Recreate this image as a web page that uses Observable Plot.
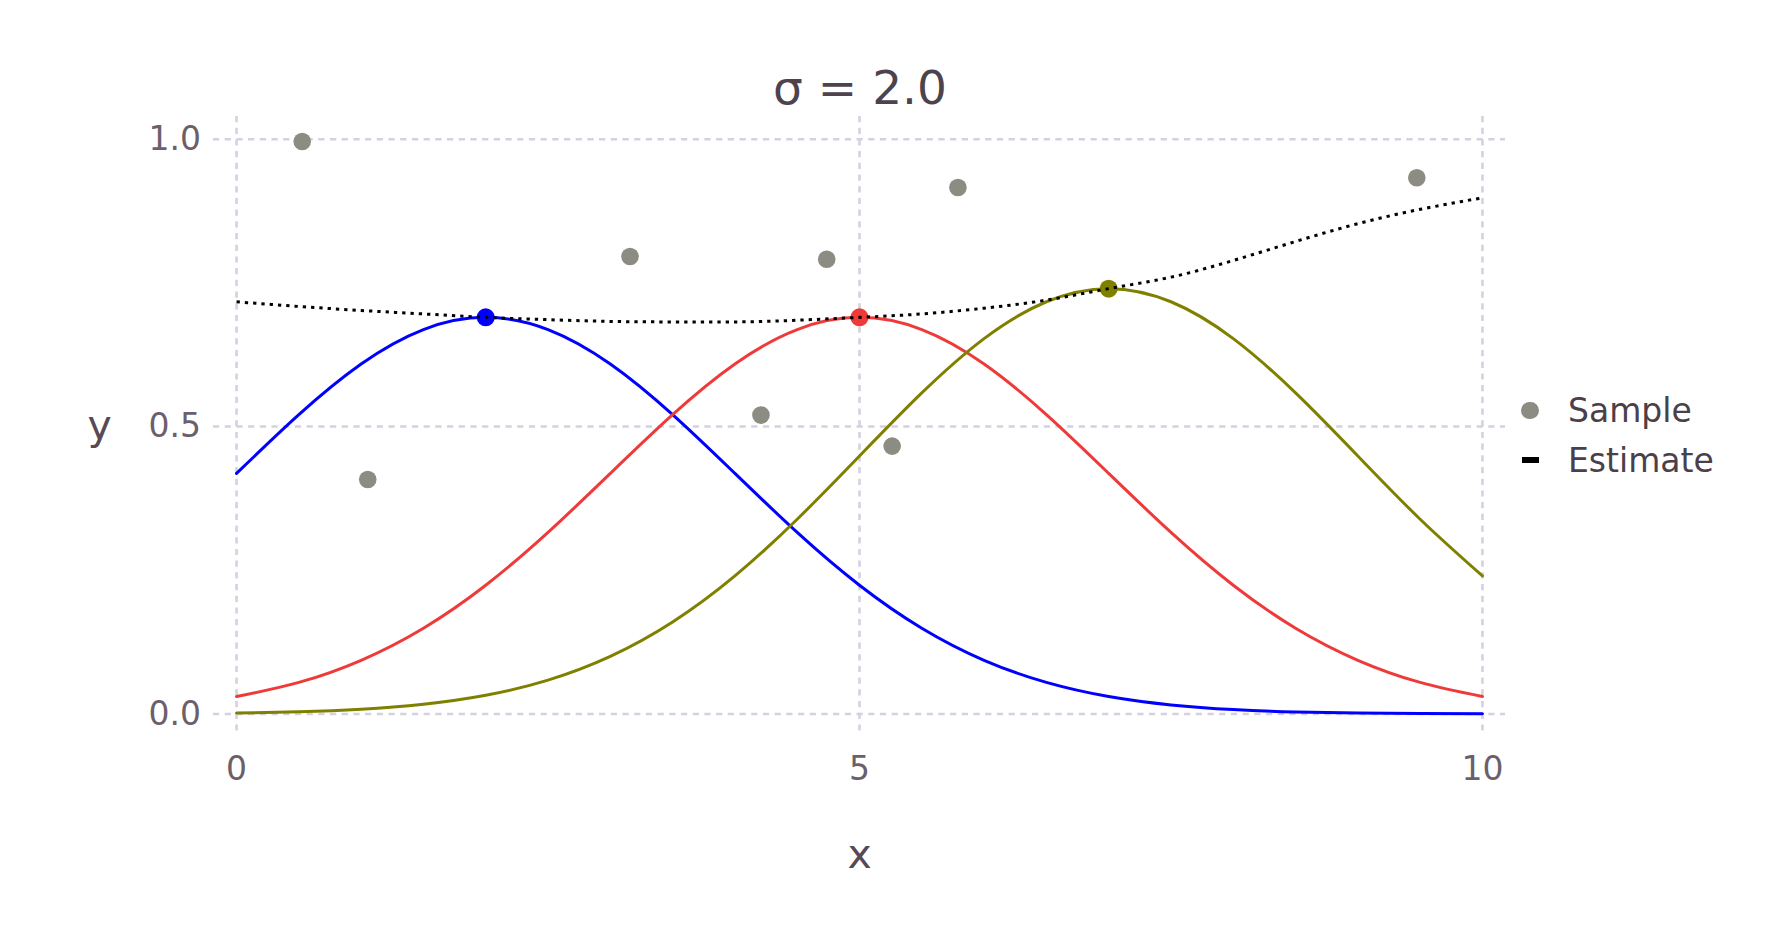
<!DOCTYPE html>
<html>
<head>
<meta charset="utf-8">
<script src="https://cdn.jsdelivr.net/npm/d3@7"></script>
<script src="https://cdn.jsdelivr.net/npm/@observablehq/plot@0.6"></script>
<style>
  html, body { margin: 0; padding: 0; background: #ffffff; }
  body { width: 1772px; height: 945px; position: relative; overflow: hidden; font-family: "DejaVu Sans", sans-serif; }
  #title { position: relative; height: 112px; }
  #title span { position: absolute; left: 860px; top: 64px; transform: translateX(-50%); font-size: 47px; line-height: 47px; color: #4d434d; white-space: nowrap; }
  #legend { position: absolute; left: 0; top: 0; width: 0; height: 0; }
  .lg-text { position: absolute; left: 1568px; font-size: 33px; line-height: 33px; color: #4a404a; white-space: nowrap; }
  .lg-dot { position: absolute; left: 1521.2px; top: 401.9px; width: 17.6px; height: 17.6px; border-radius: 50%; background: #8c8c82; }
  .lg-dash { position: absolute; left: 1521.7px; top: 456.6px; width: 17.3px; height: 6.8px; background: #000000; }
</style>
</head>
<body>
<div id="title"><span>σ = 2.0</span></div>
<div id="chart"></div>
<div id="legend">
  <div class="lg-dot"></div><div class="lg-text" style="top:394px">Sample</div>
  <div class="lg-dash"></div><div class="lg-text" style="top:444px">Estimate</div>
</div>
<script>
// ---- data ----
const gridXs = [0, 0.5, 1, 1.5, 2, 2.5, 3, 3.5, 4, 4.5, 5, 5.5, 6, 6.5, 7, 7.5, 8, 8.5, 9, 9.5, 10];
const blueCurve  = [0.4185, 0.5208, 0.6089, 0.6688, 0.6900, 0.6688, 0.6089, 0.5208, 0.4185, 0.3159, 0.2240, 0.1492, 0.0934, 0.0549, 0.0303, 0.0157, 0.0077, 0.0035, 0.0015, 0.0006, 0.0002];
const redCurve   = [0.0303, 0.0549, 0.0934, 0.1492, 0.2240, 0.3159, 0.4185, 0.5208, 0.6089, 0.6688, 0.6900, 0.6688, 0.6089, 0.5208, 0.4185, 0.3159, 0.2240, 0.1492, 0.0934, 0.0549, 0.0303];
const oliveCurve = [0.0016, 0.0038, 0.0082, 0.0169, 0.0325, 0.0589, 0.1002, 0.1600, 0.2402, 0.3388, 0.4488, 0.5586, 0.6531, 0.7172, 0.7400, 0.7172, 0.6531, 0.5586, 0.4488, 0.3388, 0.2402];
const estimate   = [0.717, 0.709, 0.702, 0.696, 0.690, 0.686, 0.683, 0.682, 0.682, 0.685, 0.690, 0.696, 0.706, 0.720, 0.740, 0.760, 0.789, 0.822, 0.853, 0.878, 0.898];

const sampleX = [0.527, 1.053, 3.158, 4.209, 4.737, 5.262, 5.790, 9.473];
const sampleY = [0.996, 0.408, 0.796, 0.520, 0.791, 0.466, 0.916, 0.933];

const centerX = [2, 5, 7];
const centerY = [0.69, 0.69, 0.74];
const centerName = ["blue", "red", "olive"];

const xTicks = [0, 5, 10];
const yTicks = [0, 0.5, 1.0];

// ---- tables ----
const rows = (ys) => gridXs.map((x, i) => ({x, y: ys[i]}));
const samples = sampleX.map((x, i) => ({x, y: sampleY[i]}));
const centers = centerX.map((x, i) => ({x, y: centerY[i], k: centerName[i]}));

const colors = {blue: "#0000ff", red: "#ef3a3a", olive: "#808000"};
const gridStyle = {stroke: "#d3d1e2", strokeOpacity: 1, strokeWidth: 2.6, strokeDasharray: "6.2,5.5"};

const chart = Plot.plot({
  width: 1772,
  height: 833,
  marginLeft: 213,
  marginRight: 267,
  marginTop: 4,
  marginBottom: 210,
  style: {fontFamily: "DejaVu Sans", fontSize: "33px", color: "#6a5f6a", background: "#ffffff"},
  x: {domain: [-0.185, 10.185]},
  y: {domain: [-0.0375, 1.0395]},
  marks: [
    Plot.gridX(xTicks, gridStyle),
    Plot.gridY(yTicks, gridStyle),
    Plot.axisX({ticks: xTicks, tickSize: 0, tickPadding: 20.6, label: null, tickFormat: d3.format("d"), fill: "#6a5f6a"}),
    Plot.axisY({ticks: yTicks, tickSize: 0, tickPadding: 12.5, label: null, tickFormat: d3.format(".1f"), fill: "#6a5f6a"}),
    Plot.dot(samples, {x: "x", y: "y", r: 8.8, fill: "#8c8c82", stroke: null}),
    Plot.line(rows(blueCurve),  {x: "x", y: "y", stroke: colors.blue,  strokeWidth: 3, curve: "natural"}),
    Plot.line(rows(redCurve),   {x: "x", y: "y", stroke: colors.red,   strokeWidth: 3, curve: "natural"}),
    Plot.line(rows(oliveCurve), {x: "x", y: "y", stroke: colors.olive, strokeWidth: 3, curve: "natural"}),
    Plot.dot(centers, {x: "x", y: "y", r: 9, fill: d => colors[d.k], stroke: null}),
    Plot.line(rows(estimate), {x: "x", y: "y", stroke: "#000000", strokeWidth: 3, strokeDasharray: "3.3,5", strokeLinecap: "butt", curve: "natural"}),
    Plot.text(["x"], {text: d => d, frameAnchor: "bottom", dy: 119.6, lineAnchor: "middle", textAnchor: "middle", fontSize: 41, fill: "#554a55"}),
    Plot.text(["y"], {text: d => d, frameAnchor: "left", dx: -114, lineAnchor: "middle", textAnchor: "middle", fontSize: 41, fill: "#554a55"})
  ]
});
document.getElementById("chart").appendChild(chart);
</script>
</body>
</html>
